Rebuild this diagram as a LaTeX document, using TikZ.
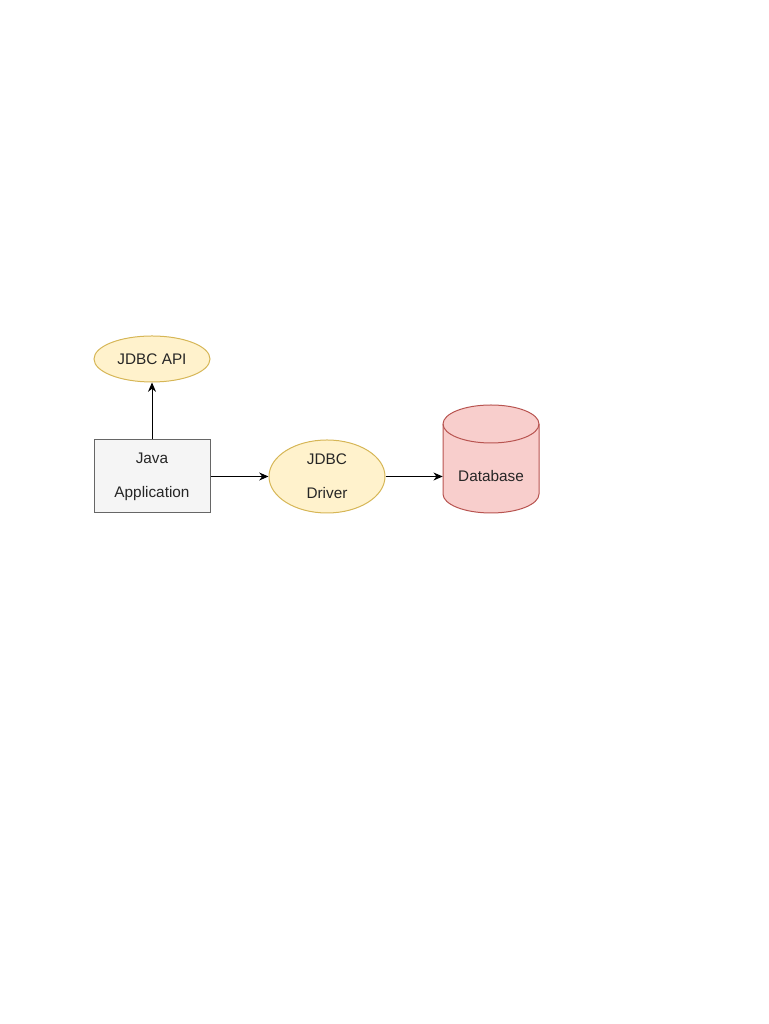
\documentclass[tikz,border=0pt]{standalone}
\usepackage{fontspec}
\setmainfont{Liberation Sans}
\usetikzlibrary{positioning,shapes.geometric,arrows.meta,calc}

\definecolor{noteFill}{HTML}{FFF2CC}
\definecolor{noteLine}{HTML}{D6B656}
\definecolor{boxFill}{HTML}{F5F5F5}
\definecolor{boxLine}{HTML}{666666}
\definecolor{dbFill}{HTML}{F8CECC}
\definecolor{dbLine}{HTML}{B85450}

\tikzset{
  every node/.style={font=\fontsize{11.5}{25.5}\selectfont, text=black!85},
  oval/.style={ellipse, draw=noteLine, fill=noteFill, line width=0.75pt,
    minimum width=87pt, inner sep=0pt, align=center},
  appbox/.style={rectangle, draw=boxLine, fill=boxFill, line width=0.75pt,
    minimum width=87pt, minimum height=54.75pt, inner sep=0pt, align=center},
  dbtext/.style={minimum width=72pt, inner sep=0pt},
  dbshape/.style={draw=dbLine, fill=dbFill, line width=0.75pt},
  link/.style={-{Stealth[length=7pt,width=6pt]}, line width=0.75pt}
}

\begin{document}
\begin{tikzpicture}[x=0.75pt, y=0.75pt, node distance=43pt]
\useasboundingbox (0,0) rectangle (768,1024);

% nodes
\node (app) [appbox] at (152,547.5) {Java\\Application};
\node (api) [oval, above=42.75pt of app, minimum height=34.5pt] {JDBC API};
\node (drv) [oval, right=43.5pt of app, minimum height=54.75pt] {JDBC\\Driver};

% database cylinder
\coordinate (dbc) at (491,547.5);
\path[dbshape] ($(dbc)+(-48,52.5)$) -- ($(dbc)+(-48,-17.5)$)
  arc[start angle=180, end angle=360, x radius=36pt, y radius=14.25pt]
  -- ($(dbc)+(48,52.5)$)
  arc[start angle=0, end angle=180, x radius=36pt, y radius=14.25pt] -- cycle;
\draw[dbshape, fill=none] ($(dbc)+(-48,52.5)$)
  arc[start angle=180, end angle=360, x radius=36pt, y radius=14.25pt];
\node (db) [dbtext] at (dbc) {Database};

% arrows
\draw[link] (app) -- (api);
\draw[link] (app) -- (drv);
\draw[link] (drv) -- (db);
\end{tikzpicture}
\end{document}
